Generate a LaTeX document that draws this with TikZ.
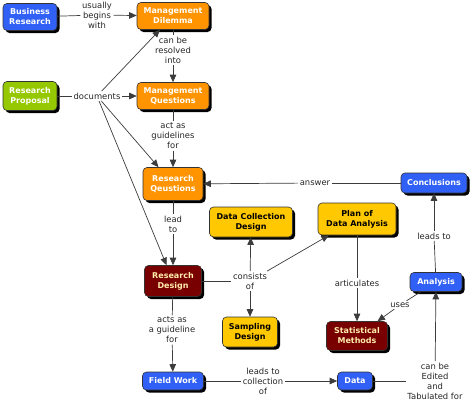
\documentclass[tikz,border=0pt]{standalone}
\usepackage{fontspec}
\setmainfont{DejaVu Sans}
\usetikzlibrary{shadows,arrows.meta}
\definecolor{cblue}{RGB}{48,96,245}
\definecolor{corange}{RGB}{255,148,0}
\definecolor{cgreen}{RGB}{150,200,0}
\definecolor{cyellow}{RGB}{255,200,0}
\definecolor{cdred}{RGB}{120,0,0}
\definecolor{cpale}{RGB}{255,236,170}
\definecolor{cline}{RGB}{60,60,60}
\begin{document}
\begin{tikzpicture}[x=1pt,y=-1pt,
  box/.style={rounded corners=4pt, draw=black!80, line width=0.6pt,
    font=\bfseries\fontsize{8}{10}\selectfont, align=center, inner sep=1pt,
    drop shadow={shadow xshift=2.5pt, shadow yshift=-2.5pt, fill=black, opacity=1}},
  bluebox/.style={box, fill=cblue, text=white},
  orangebox/.style={box, fill=corange, text=white},
  greenbox/.style={box, fill=cgreen, text=white},
  yellowbox/.style={box, fill=cyellow, text=black},
  redbox/.style={box, fill=cdred, text=cpale},
  lab/.style={font=\fontsize{8.4}{10}\selectfont, align=center, inner sep=1.5pt, text=black!85},
  ln/.style={draw=cline, line width=0.7pt},
  arr/.style={ln, -{Triangle[length=7.5pt,width=6.5pt]}}
]
\useasboundingbox (0,0) rectangle (474,402);
% boxes
\node[bluebox, minimum width=54pt, minimum height=27pt] (br) at (30,17) {Business\\Research};
\node[orangebox, minimum width=72pt, minimum height=27pt] (md) at (173,16) {Management\\Dilemma};
\node[greenbox, minimum width=54pt, minimum height=29pt] (rp) at (30,96) {Research\\Proposal};
\node[orangebox, minimum width=72pt, minimum height=27pt] (mq) at (173,96) {Management\\Questions};
\node[orangebox, minimum width=60pt, minimum height=33pt] (rq) at (173,184) {Research\\Qeustions};
\node[bluebox, minimum width=66pt, minimum height=20pt] (con) at (434,183) {Conclusions};
\node[yellowbox, minimum width=83pt, minimum height=30pt] (dcd) at (251,222) {Data Collection\\Design};
\node[yellowbox, minimum width=78pt, minimum height=32pt] (pda) at (357,219) {Plan of\\Data Analysis};
\node[redbox, minimum width=57pt, minimum height=31pt] (rd) at (173,281) {Research\\Design};
\node[yellowbox, minimum width=55pt, minimum height=30pt] (sd) at (250,332) {Sampling\\Design};
\node[bluebox, minimum width=52pt, minimum height=19pt] (an) at (436,282) {Analysis};
\node[redbox, minimum width=61pt, minimum height=29pt] (sm) at (357,336) {Statistical\\Methods};
\node[bluebox, minimum width=61pt, minimum height=18pt] (fw) at (173,381) {Field Work};
\node[bluebox, minimum width=35pt, minimum height=18pt] (data) at (355,381) {Data};
% labels
\node[lab] (l1) at (97,15) {usually\\begins\\with};
\node[lab] (l2) at (173,50) {can be\\resolved\\into};
\node[lab] (l3) at (97,96) {documents};
\node[lab] (l4) at (173,136) {act as\\guidelines\\for};
\node[lab] (l5) at (315,183) {answer};
\node[lab] (l6) at (173,224) {lead\\to};
\node[lab] (l7) at (250,281) {consists\\of};
\node[lab] (l8) at (357,283) {articulates};
\node[lab] (l9) at (434,236) {leads to};
\node[lab] (l10) at (400,305) {uses};
\node[lab] (l11) at (172,330) {acts as\\a guideline\\for};
\node[lab] (l12) at (263,381) {leads to\\collection\\of};
\node[lab] (l13) at (435,381) {can be\\Edited\\and\\Tabulated for};
% connectors
\draw[ln] (br) -- (l1); \draw[arr] (l1) -- (md);
\draw[ln] (md) -- (l2); \draw[arr] (l2) -- (mq);
\draw[ln] (rp) -- (l3);
\draw[arr] (l3) -- (md);
\draw[arr] (l3) -- (mq);
\draw[arr] (l3) -- (rq);
\draw[arr] (l3) -- (rd);
\draw[ln] (mq) -- (l4); \draw[arr] (l4) -- (rq);
\draw[ln] (con) -- (l5); \draw[arr] (l5) -- (rq);
\draw[ln] (rq) -- (l6); \draw[arr] (l6) -- (rd);
\draw[ln] (rd) -- (l7);
\draw[arr] (l7) -- (dcd);
\draw[arr] (l7) -- (sd);
\draw[arr] (l7) -- (pda);
\draw[ln] (pda) -- (l8); \draw[arr] (l8) -- (sm);
\draw[ln] (an) -- (l9); \draw[arr] (l9) -- (con);
\draw[ln] (an) -- (l10); \draw[arr] (l10) -- (sm);
\draw[ln] (rd) -- (l11); \draw[arr] (l11) -- (fw);
\draw[ln] (fw) -- (l12); \draw[arr] (l12) -- (data);
\draw[ln] (data) -- (l13.west |- data); \draw[arr] (l13) -- (an);
\end{tikzpicture}
\end{document}
